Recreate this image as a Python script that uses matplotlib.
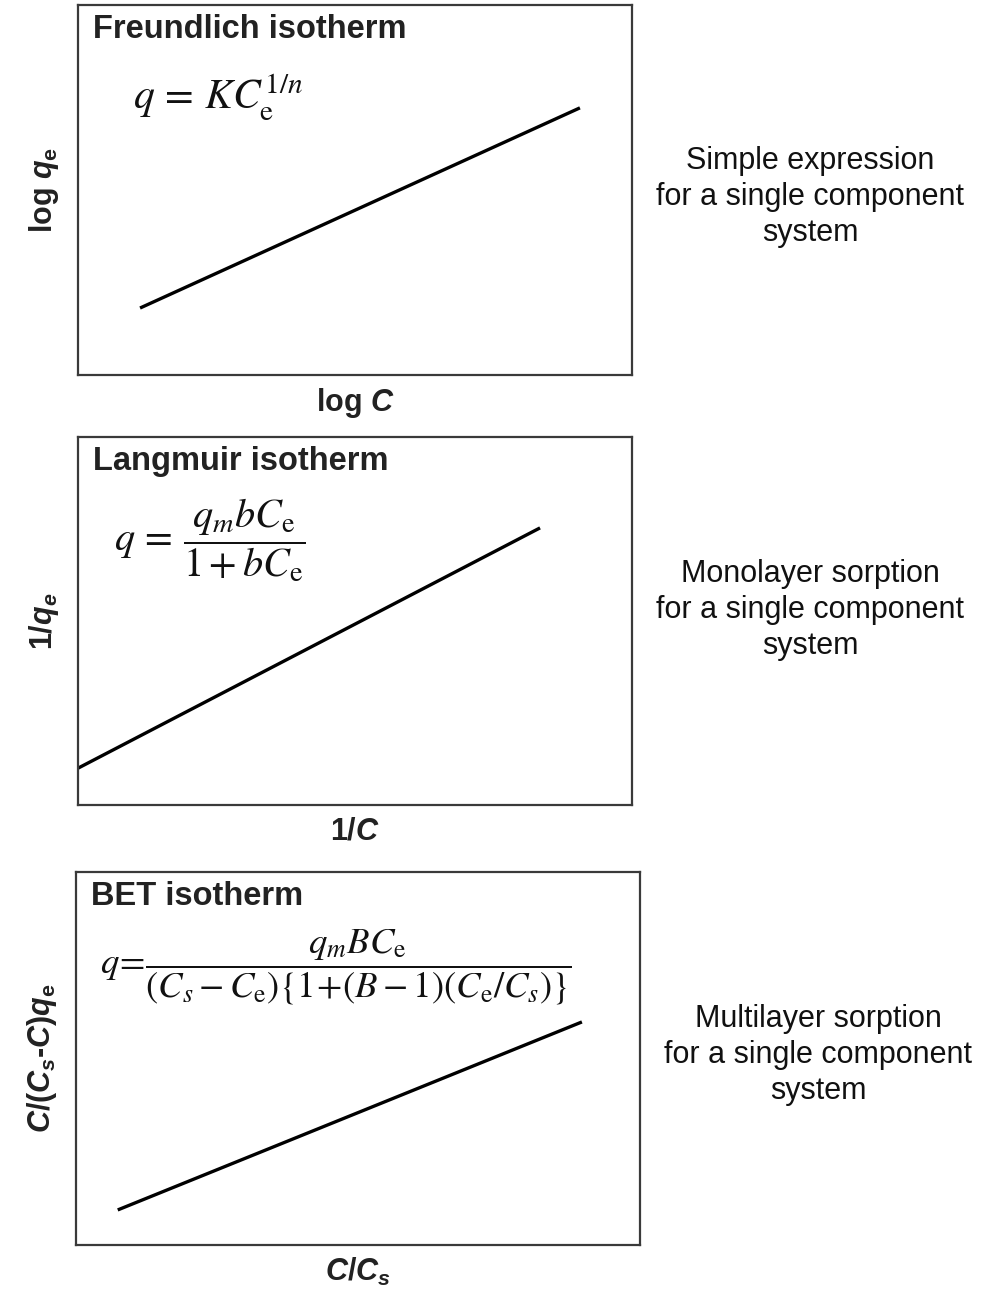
import matplotlib.pyplot as plt

plt.rcParams['font.family'] = ['Liberation Sans', 'DejaVu Sans']
plt.rcParams['mathtext.fontset'] = 'custom'
plt.rcParams['mathtext.rm'] = 'Liberation Sans:bold'
plt.rcParams['mathtext.it'] = 'Liberation Sans:bold:italic'
plt.rcParams['mathtext.bf'] = 'Liberation Sans:bold'

# schematic straight lines (axes run 0..1)
freundlich_x = [0.112, 0.906]
freundlich_y = [0.181, 0.722]
langmuir_x = [0.0, 0.834]
langmuir_y = [0.10, 0.753]
bet_x = [0.074, 0.897]
bet_y = [0.094, 0.598]

titles = ['Freundlich isotherm', 'Langmuir isotherm', 'BET isotherm']
xlabels = [r'log $C$', r'$1/C$', r'$C/C_s$']
ylabels = [r'log $q_\mathrm{e}$', r'$1/q_e$', r'$C/(C_s$-$C)q_\mathrm{e}$']
formulas = [
    r'$q\,=\,KC_\mathrm{e}^{1/n}$',
    r'$q\,=\,\dfrac{q_m bC_\mathrm{e}}{1+bC_\mathrm{e}}$',
    r'$q\!=\!\dfrac{q_m BC_\mathrm{e}}{\left(C_s-C_\mathrm{e}\right)\left\{1\!+\!\left(B-1\right)\left(C_\mathrm{e}/C_s\right)\right\}}$',
]
notes = [
    'Simple expression\nfor a single component\nsystem',
    'Monolayer sorption\nfor a single component\nsystem',
    'Multilayer sorption\nfor a single component\nsystem',
]

fig = plt.figure(figsize=(9.9, 12.92), dpi=100)
W, H = 990, 1292
boxes = [(78, 5, 632, 375), (78, 437, 632, 805), (76, 872, 640, 1245)]
lines = [(freundlich_x, freundlich_y), (langmuir_x, langmuir_y), (bet_x, bet_y)]
formula_pos = [(0.10, 0.75), (0.065, 0.72), (0.042, 0.745)]
formula_size = [30, 29, 26.5]
note_pos = [(810, 197), (810, 610), (818, 1055)]

for i in range(3):
    l, t, r, b = boxes[i]
    ax = fig.add_axes([l / W, 1 - b / H, (r - l) / W, (b - t) / H])
    ax.plot(lines[i][0], lines[i][1], color='black', lw=2.4, solid_capstyle='butt')
    ax.set_xlim(0, 1)
    ax.set_ylim(0, 1)
    ax.set_xticks([])
    ax.set_yticks([])
    for s in ax.spines.values():
        s.set_color('#3a3a3a')
        s.set_linewidth(1.6)
    ax.text(0.027, 0.975, titles[i], transform=ax.transAxes, fontsize=23.5,
            fontweight='bold', color='#222222', va='top', ha='left')
    ax.text(formula_pos[i][0], formula_pos[i][1], formulas[i], transform=ax.transAxes,
            fontsize=formula_size[i], math_fontfamily='stix', va='center', ha='left',
            color='#111111')
    ax.set_xlabel(xlabels[i], fontsize=22, fontweight='bold', labelpad=8, color='#222222')
    ax.set_ylabel(ylabels[i], fontsize=22, fontweight='bold', labelpad=12, color='#222222')
    fig.text(note_pos[i][0] / W, 1 - note_pos[i][1] / H, notes[i], fontsize=22,
             ha='center', va='center', linespacing=1.27, color='#111111')

fig.savefig('out.png', dpi=100)
